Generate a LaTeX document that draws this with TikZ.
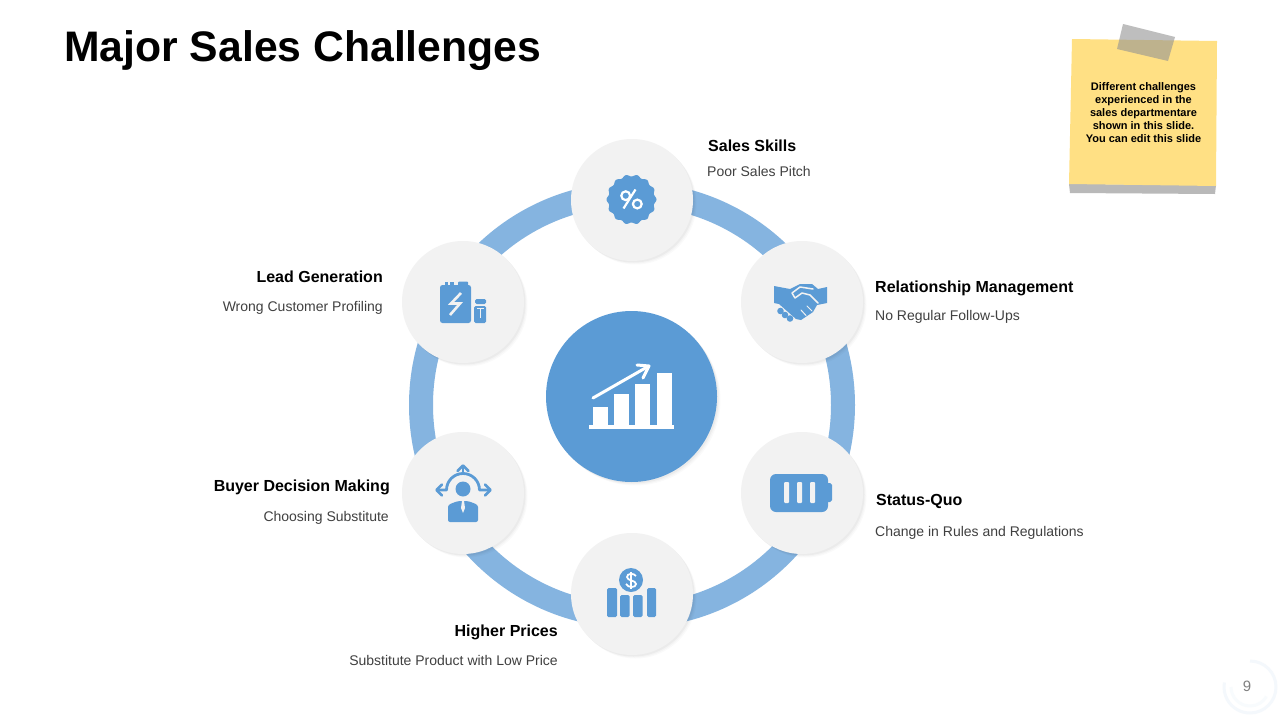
\documentclass[tikz,border=0pt]{standalone}
\usepackage{fontspec}
\setmainfont{Liberation Sans}
\usetikzlibrary{shadows}
\definecolor{mainblue}{HTML}{5B9BD5}
\definecolor{ringblue}{HTML}{85B4E0}
\definecolor{bubblegray}{HTML}{F2F2F2}
\definecolor{notey}{HTML}{FFE084}
\definecolor{subgray}{HTML}{404040}
\begin{document}
\begin{tikzpicture}[
		x=1pt,y=-1pt,
		softshadow/.style={
			drop shadow={shadow xshift=3.5pt,shadow yshift=-3.5pt,fill=black,opacity=.018},
			drop shadow={shadow xshift=2.5pt,shadow yshift=-2.5pt,fill=black,opacity=.025},
			drop shadow={shadow xshift=1.5pt,shadow yshift=-1.5pt,fill=black,opacity=.035}
		},
		bubble/.style={circle,fill=bubblegray,minimum size=122pt,inner sep=0pt,softshadow},
		head/.style={font=\fontsize{16}{19}\selectfont\bfseries,inner sep=0pt,text=black,text height=11.5pt,text depth=0pt},
		sub/.style={font=\fontsize{14}{17}\selectfont,inner sep=0pt,text=subgray,text height=10pt,text depth=0pt},
		iconfill/.style={fill=mainblue},
		iconline/.style={draw=mainblue,line width=2.8pt,line cap=round,line join=round},
		cutline/.style={draw=bubblegray,line width=1.5pt,line cap=round,line join=round}
	]
	\useasboundingbox (0,0) rectangle (1280,720);
	\fill[white] (0,0) rectangle (1280,720);

	\node[anchor=west,inner sep=0pt,font=\fontsize{42.7}{50}\selectfont\bfseries] (title) at (64,51) {Major Sales Challenges};

	% ring
	\node[circle,draw=ringblue,line width=24pt,minimum size=422pt,inner sep=0pt] (ring) at (632,405) {};

	% bubbles
	\node[bubble] (skills) at (632,200) {};
	\node[bubble] (relation) at (802,302) {};
	\node[bubble] (quo) at (802,493) {};
	\node[bubble] (prices) at (632,594) {};
	\node[bubble] (buyer) at (463,493) {};
	\node[bubble] (lead) at (463,302) {};
	\node[circle,fill=mainblue,minimum size=171pt,inner sep=0pt,softshadow] (chart) at (631.5,396.5) {};

	% labels
	\node[head,anchor=west] (skillsHead) at (708,146) {Sales Skills};
	\node[sub,anchor=west] (skillsSub) at (707,171) {Poor Sales Pitch};
	\node[head,anchor=west] (relationHead) at (875,287) {Relationship Management};
	\node[sub,anchor=west] (relationSub) at (875,315) {No Regular Follow-Ups};
	\node[head,anchor=west] (quoHead) at (876,500) {Status-Quo};
	\node[sub,anchor=west] (quoSub) at (875,531) {Change in Rules and Regulations};
	\node[head,anchor=east] (leadHead) at (383,277) {Lead Generation};
	\node[sub,anchor=east] (leadSub) at (383,306) {Wrong Customer Profiling};
	\node[head,anchor=east] (buyerHead) at (390,486) {Buyer Decision Making};
	\node[sub,anchor=east] (buyerSub) at (389,516) {Choosing Substitute};
	\node[head,anchor=east] (pricesHead) at (558,631) {Higher Prices};
	\node[sub,anchor=east] (pricesSub) at (558,660) {Substitute Product with Low Price};

	% chart icon
	\fill[white] (593,407) rectangle (608,425);
	\fill[white] (614,394) rectangle (629,425);
	\fill[white] (635,384) rectangle (650,425);
	\fill[white] (657,373) rectangle (672,425);
	\fill[white] (589,424.5) rectangle (674,428.5);
	\draw[white,line width=3pt,line cap=round,line join=round] (593,398) -- (648,366.5);
	\draw[white,line width=3pt,line cap=round,line join=round] (637,365) -- (649,366) -- (643,378);

	% percent badge
	\fill[iconfill,shift={(631.5,199.5)}] plot[domain=0:360,samples=140] (\x:{24+1*cos(14*\x)}) -- cycle;
	\draw[white,line width=2.2pt] (625.7,195.7) circle (4.4);
	\draw[white,line width=2.2pt] (637.3,204) circle (4.4);
	\draw[white,line width=2.2pt] (635.5,189.5) -- (623.5,208.5);

	% handshake
	\fill[iconfill] (774,286) -- (790,289) -- (800,284) -- (812,284) -- (818,289) -- (827,287) -- (827,303) -- (817,305)
		-- (813,312) -- (807,316) -- (801,320) -- (796,319) -- (779,304) -- (774,303) -- cycle;
	\fill[iconfill] (780.5,311) circle (3.3);
	\fill[iconfill] (785,315) circle (3.3);
	\fill[iconfill] (790,318.5) circle (3.3);
	\draw[cutline] (813,289) -- (800,287) -- (792,293) -- (795,298) -- (802,293) -- (810,295) -- (818,303);
	\draw[cutline,line width=1pt] (812,311) -- (807,306);
	\draw[cutline,line width=1pt] (806,315.5) -- (801,310);

	% battery
	\fill[iconfill,rounded corners=6pt] (770,474) rectangle (828,512);
	\fill[iconfill] (826,483) -- (830,483) -- (832,485) -- (832,500) -- (830,502) -- (826,502) -- cycle;
	\fill[bubblegray,rounded corners=1pt] (784,482) rectangle (789,503);
	\fill[bubblegray,rounded corners=1pt] (797,482) rectangle (802,503);
	\fill[bubblegray,rounded corners=1pt] (810,482) rectangle (815,503);

	% price bars
	\fill[iconfill] (631,580) circle (12);
	\draw[white,line width=1.8pt] (636,576) .. controls (634,573) and (627,573) .. (627,577) .. controls (627,581) and (636,580) .. (636,584) .. controls (636,588) and (628,588) .. (626,584);
	\draw[white,line width=1.3pt] (631,572) -- (631,589);
	\fill[iconfill,rounded corners=1.5pt] (607,588) rectangle (617,617);
	\fill[iconfill,rounded corners=1.5pt] (620,595) rectangle (629.5,617);
	\fill[iconfill,rounded corners=1.5pt] (633,595) rectangle (642.5,617);
	\fill[iconfill,rounded corners=1.5pt] (647,588) rectangle (656,617);

	% buyer decision
	\fill[iconfill] (463,489) circle (7.5);
	\fill[iconfill,rounded corners=2pt] (448,522) -- (448,509) .. controls (448,504) and (453,503) .. (458,501) -- (468,501) .. controls (473,503) and (478,504) .. (478,509) -- (478,522) -- cycle;
	\fill[bubblegray] (462,501) -- (464,501) -- (465,508) -- (463,513) -- (461,508) -- cycle;
	\draw[iconline] (437,490) -- (446.5,490) arc (180:360:16.5) -- (490,490);
	\draw[iconline] (463,473) -- (463,466);
	\draw[iconline] (442,484.5) -- (436.5,490) -- (442,495.5);
	\draw[iconline] (485,484.5) -- (490.5,490) -- (485,495.5);
	\draw[iconline] (457.5,471) -- (463,465.5) -- (468.5,471);

	% battery jars
	\fill[iconfill,rounded corners=2.5pt] (440,285) rectangle (471,323);
	\fill[iconfill] (444.5,281.5) rectangle (448,287);
	\fill[iconfill] (450,281.5) rectangle (453.5,287);
	\fill[iconfill,rounded corners=1pt] (458,281.5) rectangle (468,287);
	\draw[bubblegray,line width=2.6pt,line join=miter] (461,293) -- (451,303.5) -- (460,303.5) -- (450,315);
	\fill[iconfill,rounded corners=1.5pt] (475,299) rectangle (486,304);
	\fill[iconfill,rounded corners=1.5pt] (474,306) rectangle (486,323);
	\draw[bubblegray,line width=1.6pt] (477,308.5) -- (484,308.5) (480.5,308.5) -- (480.5,318);

	% note
	\fill[gray!55!white] (1069,184) -- (1216,185) -- (1215,194) -- (1070,193) -- cycle;
	\fill[notey] (1072,39) -- (1217,41) -- (1216,186) -- (1069,184) -- cycle;
	\fill[black!42,opacity=.6] (1123,24) -- (1175,37) -- (1168,61) -- (1117,49) -- cycle;
	\node[align=center,inner sep=0pt,font=\fontsize{11}{13}\selectfont\bfseries] (noteText) at (1143.5,113) {Different challenges\\experienced in the\\sales departmentare\\shown in this slide.\\You can edit this slide};

	% page mark
	\draw[mainblue!7,line width=3pt] (1250,687) ++(-90:26) arc (-90:190:26);
	\draw[mainblue!4,line width=3pt] (1250,687) ++(180:19) arc (180:30:19);
	\node[inner sep=0pt,text=gray,font=\fontsize{15}{18}\selectfont] (pageNo) at (1247,686) {9};
\end{tikzpicture}
\end{document}
